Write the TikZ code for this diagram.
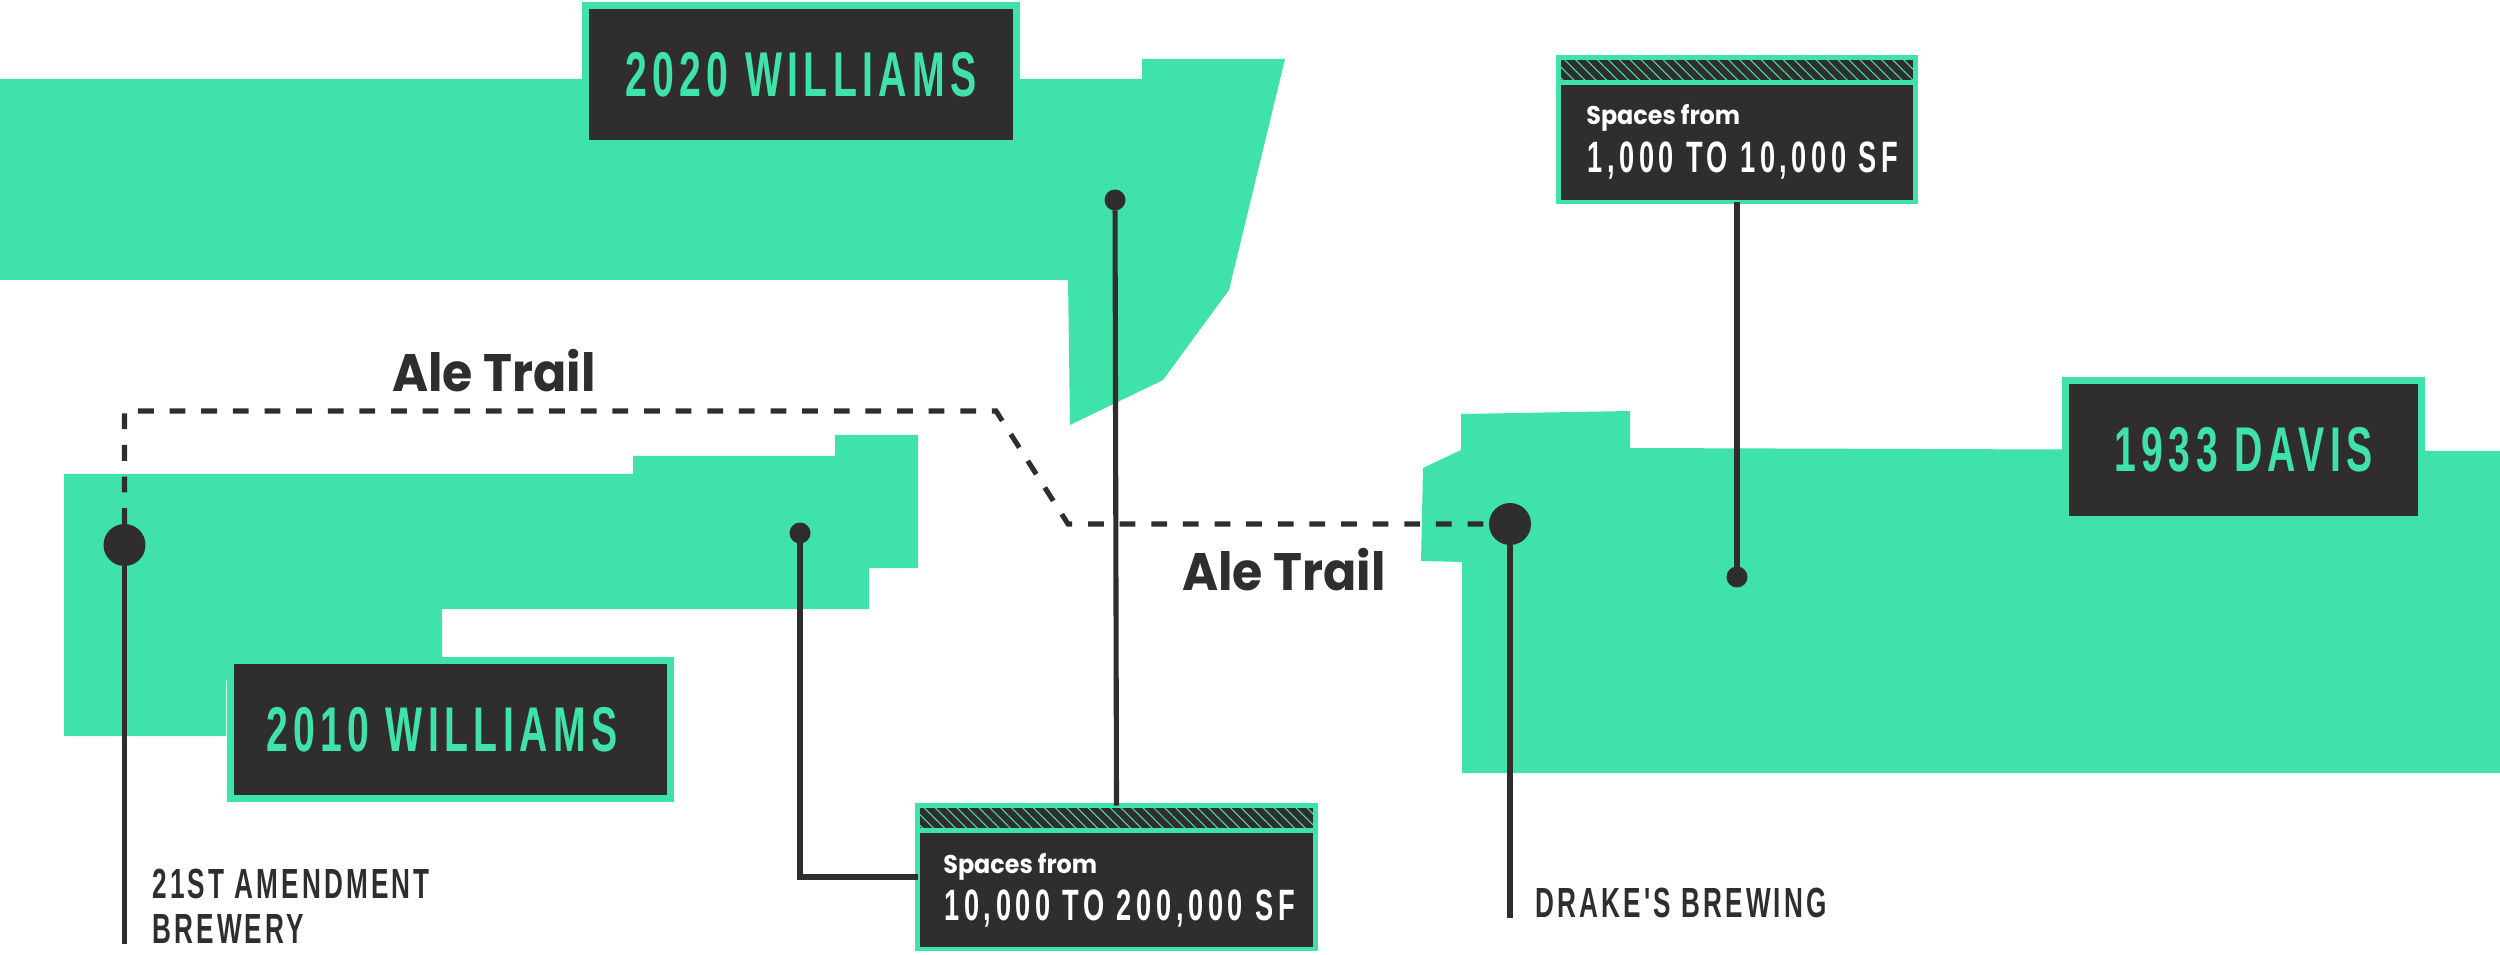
\documentclass[tikz,border=0pt]{standalone}
\usepackage{fontspec}
\usepackage{xcolor}
\usetikzlibrary{patterns.meta}
\newfontfamily\condfont[FakeStretch=0.62,LetterSpace=8.5]{Liberation Sans}
\newfontfamily\sizefont[FakeStretch=0.62,LetterSpace=10.5]{Liberation Sans}
\newfontfamily\placefont[FakeStretch=0.62,LetterSpace=7.5]{Liberation Sans}
\newfontfamily\roundfont[FakeStretch=0.93]{Poppins}
\definecolor{mint}{HTML}{3FE2AB}
\definecolor{coal}{HTML}{302E2D}
\tikzset{
	namebox/.style = {draw=mint, fill=coal, text=mint, line width=3.97pt, inner sep=0pt, outer sep=0pt,
		font=\condfont\bfseries\fontsize{36}{40}\selectfont},
	sizebox/.style = {draw=mint, fill=coal, line width=2.6pt, inner sep=0pt, outer sep=0pt},
	hatchband/.style = {draw=mint, fill=coal, line width=2.6pt, inner sep=0pt, outer sep=0pt,
		postaction={pattern={Lines[angle=-45,distance=4.4pt,line width=0.6pt]}, pattern color=mint}},
	fromtext/.style = {text=white, inner sep=0pt, anchor=base west,
		font=\roundfont\bfseries\fontsize{14.6}{18}\selectfont},
	sizetext/.style = {text=white, inner sep=0pt, anchor=base west,
		font=\sizefont\bfseries\fontsize{25}{29}\selectfont},
	placetext/.style = {text=coal, inner sep=0pt, anchor=north west, align=left,
		font=\placefont\bfseries\fontsize{24}{25.5}\selectfont},
	trailtext/.style = {text=coal, inner sep=0pt, anchor=base west,
		font=\roundfont\bfseries\fontsize{30}{34}\selectfont},
	bigdot/.style = {circle, fill=coal, minimum size=0.84cm, inner sep=0pt, outer sep=0pt},
	smalldot/.style = {circle, fill=coal, minimum size=0.42cm, inner sep=0pt, outer sep=0pt},
	leader/.style = {draw=coal, line width=2.9pt},
	trail/.style = {draw=coal, line width=2.9pt, dash pattern=on 9pt off 9pt}
}
\begin{document}
\begin{tikzpicture}[x=0.02cm, y=-0.02cm]
	\useasboundingbox (0,0) rectangle (2500,955);
	%\draw[help lines] (0,0) grid (2500,955);

	% buildings
	\fill[mint] (0,79) -- (1142,79) -- (1142,59) -- (1285,59) -- (1229,290) -- (1163,380) -- (1070,425) -- (1068,280) -- (0,280) -- cycle;
	\fill[mint] (64,474) -- (633,474) -- (633,456) -- (835,456) -- (835,435) -- (918,435) -- (918,568) -- (869,568) -- (869,609) -- (442,609) -- (442,680) -- (226,680) -- (226,736) -- (64,736) -- cycle;
	\fill[mint] (1461,414) -- (1630,411) -- (1630,448) -- (2500,451) -- (2500,773) -- (1462,773) -- (1462,562) -- (1421,561) -- (1423,468) -- (1461,450) -- cycle;

	% dots
	\node[bigdot] (amendment) at (124.5,545) {};
	\node[bigdot] (drakes) at (1510,524) {};
	\node[smalldot] (williams20) at (1115,200) {};
	\node[smalldot] (williams10) at (800,533) {};
	\node[smalldot] (davis) at (1737,577) {};

	% building names
	\node[namebox, minimum width=8.62cm, minimum height=2.76cm] (name20) at (801,74.5) {2020 WILLIAMS};
	\node[namebox, minimum width=8.8cm, minimum height=2.76cm] (name10) at (450.5,729.5) {2010 WILLIAMS\kern10pt};
	\node[namebox, minimum width=7.12cm, minimum height=2.78cm] (name33) at (2243.5,450) {1933 DAVIS};

	% size boxes
	\node[sizebox, minimum width=7.14cm, minimum height=2.9cm] (sizeA) at (1737,129.5) {};
	\node[hatchband, minimum width=7.14cm, minimum height=0.5cm] (hatchA) at (1737,70) {};
	\node[fromtext] (fromA) at (1586,125) {Spaces from};
	\node[sizetext] (textA) at (1587,173) {1,000 TO 10,000 SF};

	\node[sizebox, minimum width=7.96cm, minimum height=2.88cm] (sizeB) at (1116.5,877) {};
	\node[hatchband, minimum width=7.96cm, minimum height=0.5cm] (hatchB) at (1116.5,818) {};
	\node[fromtext] (fromB) at (943,873) {Spaces from};
	\node[sizetext] (textB) at (944,920) {10,000 TO 200,000 SF};

	% places
	\node[placetext] (placeA) at (152,869) {21ST AMENDMENT\\BREWERY};
	\node[placetext] (placeB) at (1535,888) {DRAKE'S BREWING};
	\node[trailtext] (trailA) at (392,392) {Ale Trail};
	\node[trailtext] (trailB) at (1182,590) {Ale Trail};

	\coordinate (endA) at (124.5,944);
	\coordinate (endB) at (1510,918);
	\coordinate (bendA) at (124.5,411);
	\coordinate (bendB) at (996,411);
	\coordinate (bendC) at (1068,524);
	\coordinate (bendD) at (800,877);

	\draw[leader] (amendment) -- (endA);
	\draw[leader] (drakes) -- (endB);
	\draw[leader] (williams20) -- (hatchB.north);
	\draw[leader] (davis) -- (sizeA.south);
	\draw[leader] (williams10) -- (bendD) -- (sizeB.west);
	\draw[trail] (amendment) -- (bendA) -- (bendB) -- (bendC) -- (drakes);
\end{tikzpicture}
\end{document}
